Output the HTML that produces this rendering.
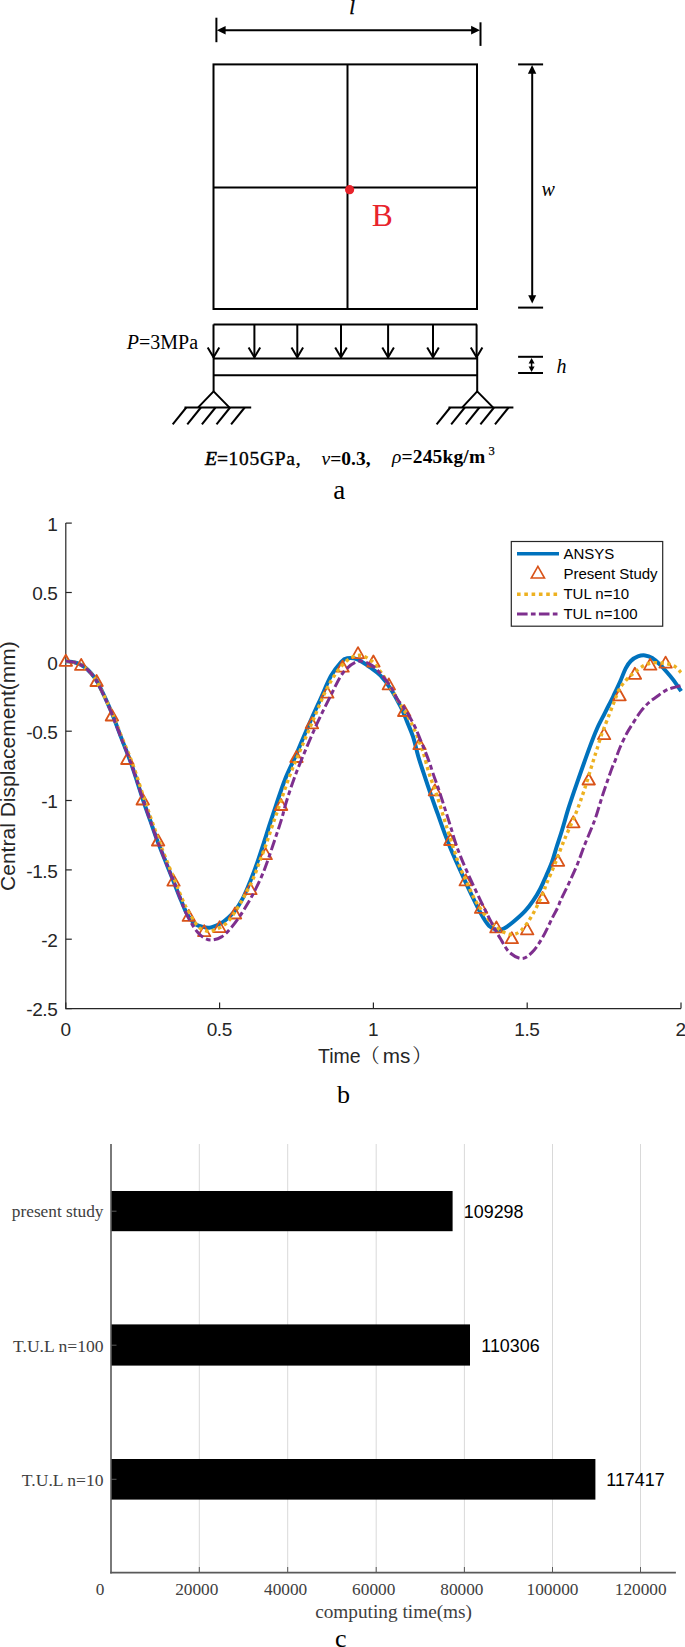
<!DOCTYPE html>
<html><head><meta charset="utf-8"><title>Figure</title>
<style>
html,body{margin:0;padding:0;background:#fff;}
body{width:685px;height:1647px;overflow:hidden;}
svg{display:block;}
</style></head>
<body>
<svg width="685" height="1647" viewBox="0 0 685 1647">
<rect width="685" height="1647" fill="#fff"/>

<g stroke="#000" stroke-width="2" fill="none" stroke-linecap="butt">
  <!-- l dimension -->
  <line x1="216.4" y1="17.7" x2="216.4" y2="42.2"/>
  <line x1="480.5" y1="22.3" x2="480.5" y2="45.9"/>
  <line x1="222" y1="30.2" x2="474" y2="30.2"/>
  <!-- plate -->
  <rect x="213.5" y="64.4" width="263.5" height="244.6"/>
  <line x1="347.5" y1="64.4" x2="347.5" y2="309"/>
  <line x1="213.5" y1="187.5" x2="477" y2="187.5" stroke-width="1.8"/>
  <!-- w dimension -->
  <line x1="518.1" y1="64.4" x2="543.1" y2="64.4"/>
  <line x1="518.1" y1="307.6" x2="543.1" y2="307.6"/>
  <line x1="532.2" y1="70" x2="532.2" y2="298"/>
  <!-- load -->
  <line x1="213.5" y1="324.4" x2="477" y2="324.4"/>
  <line x1="213.5" y1="324.4" x2="213.5" y2="357.5"/><polyline points="207.7,347.6 213.5,357.2 219.3,347.6" fill="none"/><line x1="254.4" y1="324.4" x2="254.4" y2="357.5"/><polyline points="248.6,347.6 254.4,357.2 260.2,347.6" fill="none"/><line x1="297.3" y1="324.4" x2="297.3" y2="357.5"/><polyline points="291.5,347.6 297.3,357.2 303.1,347.6" fill="none"/><line x1="341.0" y1="324.4" x2="341.0" y2="357.5"/><polyline points="335.2,347.6 341.0,357.2 346.8,347.6" fill="none"/><line x1="388.1" y1="324.4" x2="388.1" y2="357.5"/><polyline points="382.3,347.6 388.1,357.2 393.9,347.6" fill="none"/><line x1="433.0" y1="324.4" x2="433.0" y2="357.5"/><polyline points="427.2,347.6 433.0,357.2 438.8,347.6" fill="none"/><line x1="476.6" y1="324.4" x2="476.6" y2="357.5"/><polyline points="470.8,347.6 476.6,357.2 482.4,347.6" fill="none"/>
  <!-- beam -->
  <line x1="213.5" y1="358.4" x2="477" y2="358.4"/>
  <line x1="213.5" y1="375.2" x2="477" y2="375.2"/>
  <line x1="213.6" y1="357" x2="213.6" y2="391.4"/>
  <line x1="477.2" y1="357" x2="477.2" y2="391.4"/>
  <!-- supports -->
  <polyline points="198.2,407.4 213.6,391.4 229.3,407.4"/>
  <polyline points="462.3,407.4 477.2,391.4 493,407.4"/>
  <line x1="184.5" y1="407.5" x2="251.2" y2="407.5"/>
  <line x1="448.5" y1="407.5" x2="513.4" y2="407.5"/>
  <line x1="186.3" y1="407.5" x2="172.7" y2="424.3"/><line x1="200.9" y1="407.5" x2="187.3" y2="424.3"/><line x1="215.5" y1="407.5" x2="201.9" y2="424.3"/><line x1="230.1" y1="407.5" x2="216.5" y2="424.3"/><line x1="244.7" y1="407.5" x2="231.1" y2="424.3"/>
  <line x1="450.2" y1="407.5" x2="436.6" y2="424.3"/><line x1="464.8" y1="407.5" x2="451.2" y2="424.3"/><line x1="479.4" y1="407.5" x2="465.8" y2="424.3"/><line x1="494.0" y1="407.5" x2="480.4" y2="424.3"/><line x1="508.6" y1="407.5" x2="495.0" y2="424.3"/>
  <!-- h dimension -->
  <line x1="518.1" y1="356.8" x2="543" y2="356.8"/>
  <line x1="518.1" y1="373" x2="543" y2="373"/>
  <line x1="531.6" y1="362" x2="531.6" y2="368" stroke-width="1.5"/>
</g>
<g fill="#000" stroke="none">
  <polygon points="216.8,30.2 225.6,26 225.6,34.4"/>
  <polygon points="480,30.2 471.1,25.8 471.1,34.6"/>
  <polygon points="532.1,65 527.9,73.8 536.3,73.8"/>
  <polygon points="532.2,303.6 528.2,295.3 536.2,295.3"/>
  <polygon points="531.6,358 528.6,363.5 534.6,363.5"/>
  <polygon points="531.6,372 528.6,366.5 534.6,366.5"/>
</g>
<circle cx="349.6" cy="189.7" r="4.6" fill="#e8232b"/>
<g font-family="'Liberation Serif', serif" fill="#000">
  <text x="349.2" y="13.8" font-size="20.5" font-style="italic" stroke="#000" stroke-width="0.3">l</text>
  <text x="541.5" y="195.8" font-size="20" font-style="italic">w</text>
  <text x="371.8" y="226.2" font-size="31.5" fill="#e8232b">B</text>
  <text x="126.8" y="348.6" font-size="20"><tspan font-style="italic">P</tspan>=3MPa</text>
  <text x="556.5" y="372.8" font-size="20" font-style="italic">h</text>
  <text x="205" y="465" font-size="19.5"><tspan font-style="italic" stroke="#000" stroke-width="0.6">E</tspan><tspan stroke="#000" stroke-width="0.35" letter-spacing="0.7">=105GPa,</tspan></text>
  <text x="321.5" y="464.5" font-size="19.5"><tspan font-style="italic">ν</tspan><tspan font-weight="bold">=0.3,</tspan></text>
  <text x="392" y="463" font-size="19.5" letter-spacing="0.15"><tspan font-style="italic">ρ</tspan><tspan font-weight="bold">=245kg/m</tspan></text>
  <text x="488.6" y="454.5" font-size="12.5" stroke="#000" stroke-width="0.25">3</text>
  <text x="333.3" y="498.7" font-size="27">a</text>
</g>


<g stroke="#262626" stroke-width="1.2" fill="none">
  <polyline points="65.8,523.1 65.8,1008.6 681,1008.6"/>
  <line x1="65.8" y1="523.1" x2="71.8" y2="523.1"/><line x1="65.8" y1="592.5" x2="71.8" y2="592.5"/><line x1="65.8" y1="661.8" x2="71.8" y2="661.8"/><line x1="65.8" y1="731.2" x2="71.8" y2="731.2"/><line x1="65.8" y1="800.5" x2="71.8" y2="800.5"/><line x1="65.8" y1="869.9" x2="71.8" y2="869.9"/><line x1="65.8" y1="939.2" x2="71.8" y2="939.2"/><line x1="65.8" y1="1008.6" x2="71.8" y2="1008.6"/><line x1="65.8" y1="1008.6" x2="65.8" y2="1002.6"/><line x1="219.6" y1="1008.6" x2="219.6" y2="1002.6"/><line x1="373.4" y1="1008.6" x2="373.4" y2="1002.6"/><line x1="527.2" y1="1008.6" x2="527.2" y2="1002.6"/><line x1="681.0" y1="1008.6" x2="681.0" y2="1002.6"/>
</g>
<g fill="none" stroke-linejoin="round">
  <path d="M65.8,661.2 C67.3,661.4 72.4,661.9 75.0,662.5 C77.6,663.1 79.1,663.8 81.3,665.0 C83.5,666.2 85.8,667.9 88.0,670.0 C90.2,672.1 92.2,674.3 94.4,677.4 C96.6,680.5 98.1,683.1 100.9,688.8 C103.7,694.4 107.7,703.1 111.1,711.3 C114.5,719.5 117.9,729.0 121.3,737.9 C124.7,746.8 127.9,754.0 131.5,764.4 C135.1,774.8 140.0,790.7 143.1,800.0 C146.2,809.3 147.8,813.6 150.2,820.4 C152.6,827.2 154.8,834.1 157.4,840.9 C160.0,847.7 162.8,854.5 165.5,861.3 C168.2,868.1 171.1,875.2 173.7,881.7 C176.3,888.2 178.8,895.1 180.9,900.1 C183.0,905.1 184.3,908.7 186.0,912.0 C187.7,915.3 189.4,917.9 191.1,920.0 C192.8,922.1 194.3,923.4 196.0,924.5 C197.7,925.6 199.1,926.0 201.3,926.5 C203.5,927.0 206.3,928.1 209.3,927.7 C212.3,927.3 216.9,925.2 219.5,924.0 C222.1,922.8 222.4,922.9 225.0,920.6 C227.6,918.3 232.1,914.3 235.2,910.4 C238.3,906.5 240.8,902.0 243.4,897.1 C246.0,892.2 248.1,886.7 250.5,880.7 C252.9,874.7 255.5,867.6 257.7,861.3 C259.9,855.0 261.8,849.2 263.8,842.9 C265.9,836.6 267.9,829.8 270.0,823.5 C272.1,817.2 273.6,812.5 276.1,805.1 C278.6,797.8 281.7,787.8 285.0,779.4 C288.3,771.0 293.6,760.7 296.1,755.0 C298.6,749.3 297.8,750.6 300.2,745.0 C302.6,739.4 307.0,729.0 310.4,721.3 C313.8,713.5 317.3,706.0 320.7,698.5 C324.1,691.0 327.5,682.1 330.9,676.0 C334.3,669.9 338.4,665.0 341.1,662.0 C343.8,659.0 344.5,658.7 347.2,658.3 C349.9,657.9 353.6,657.9 357.4,659.4 C361.2,660.9 366.4,664.7 370.2,667.4 C374.0,670.1 377.0,671.9 380.4,675.5 C383.8,679.1 387.3,683.5 390.7,688.8 C394.1,694.1 398.2,701.8 400.9,707.2 C403.6,712.7 405.0,716.5 407.0,721.5 C409.0,726.5 411.2,731.1 413.1,736.9 C415.0,742.7 416.5,750.4 418.2,756.3 C419.9,762.2 421.3,766.0 423.4,772.3 C425.5,778.6 428.3,787.1 430.7,794.2 C433.1,801.3 435.6,807.9 438.0,814.7 C440.4,821.5 443.1,829.3 445.3,835.1 C447.5,840.9 448.6,843.8 451.1,849.7 C453.6,855.6 457.1,863.5 460.4,870.7 C463.7,877.9 467.3,886.0 470.7,893.1 C474.1,900.2 477.8,908.2 480.9,913.6 C483.9,919.0 486.3,923.1 489.0,925.8 C491.7,928.5 494.7,929.4 497.2,929.9 C499.7,930.4 501.3,929.9 504.0,928.5 C506.7,927.1 509.9,924.7 513.4,921.8 C516.9,918.9 521.7,914.7 525.0,911.2 C528.3,907.7 530.7,904.4 533.2,900.7 C535.7,897.0 538.1,893.1 540.2,889.0 C542.3,884.9 544.0,880.7 546.0,876.2 C548.0,871.7 550.1,867.1 551.9,862.2 C553.7,857.3 554.9,852.4 556.6,847.0 C558.3,841.6 560.1,836.5 562.1,830.0 C564.1,823.5 566.1,815.9 568.5,808.2 C570.9,800.6 573.0,794.4 576.6,784.1 C580.2,773.8 586.6,755.6 590.0,746.4 C593.4,737.2 594.5,734.4 597.0,728.7 C599.5,723.0 602.5,717.8 605.2,712.3 C607.9,706.8 610.9,701.3 613.4,696.0 C615.9,690.7 618.5,685.3 620.5,680.7 C622.5,676.1 624.0,671.7 625.7,668.4 C627.4,665.1 628.8,663.0 630.8,661.0 C632.8,659.0 635.5,657.3 637.9,656.4 C640.3,655.5 642.7,655.1 645.1,655.4 C647.5,655.7 649.8,656.5 652.2,658.0 C654.6,659.5 657.4,662.0 659.7,664.3 C662.1,666.5 664.1,669.0 666.3,671.5 C668.5,674.0 670.4,676.1 672.9,679.4 C675.4,682.7 679.8,689.2 681.2,691.2" stroke="#0072bd" stroke-width="4"/>
  <path d="M65.8,654.8 L72.0,665.8 L59.6,665.8 Z M81.2,658.9 L87.4,669.9 L75.0,669.9 Z M96.6,675.0 L102.8,686.0 L90.4,686.0 Z M111.9,709.5 L118.1,720.5 L105.7,720.5 Z M127.3,753.0 L133.5,764.0 L121.1,764.0 Z M142.7,793.5 L148.9,804.5 L136.5,804.5 Z M158.1,834.5 L164.3,845.5 L151.9,845.5 Z M173.5,874.6 L179.7,885.6 L167.3,885.6 Z M188.8,909.9 L195.0,920.9 L182.6,920.9 Z M204.2,925.1 L210.4,936.1 L198.0,936.1 Z M219.6,921.1 L225.8,932.1 L213.4,932.1 Z M235.0,907.5 L241.2,918.5 L228.8,918.5 Z M250.4,883.1 L256.6,894.1 L244.2,894.1 Z M265.7,848.1 L271.9,859.1 L259.5,859.1 Z M281.1,799.0 L287.3,810.0 L274.9,810.0 Z M296.5,751.0 L302.7,762.0 L290.3,762.0 Z M311.9,717.3 L318.1,728.3 L305.7,728.3 Z M327.3,686.6 L333.5,697.6 L321.1,697.6 Z M342.6,660.7 L348.8,671.7 L336.4,671.7 Z M358.0,647.1 L364.2,658.1 L351.8,658.1 Z M373.4,655.5 L379.6,666.5 L367.2,666.5 Z M388.8,678.4 L395.0,689.4 L382.6,689.4 Z M404.2,705.0 L410.4,716.0 L398.0,716.0 Z M419.5,738.1 L425.7,749.1 L413.3,749.1 Z M434.9,784.4 L441.1,795.4 L428.7,795.4 Z M450.3,834.0 L456.5,845.0 L444.1,845.0 Z M465.7,874.4 L471.9,885.4 L459.5,885.4 Z M481.1,901.9 L487.3,912.9 L474.9,912.9 Z M496.4,921.4 L502.6,932.4 L490.2,932.4 Z M511.8,932.2 L518.0,943.2 L505.6,943.2 Z M527.2,923.4 L533.4,934.4 L521.0,934.4 Z M542.6,892.0 L548.8,903.0 L536.4,903.0 Z M558.0,854.8 L564.2,865.8 L551.8,865.8 Z M573.3,816.3 L579.5,827.3 L567.1,827.3 Z M588.7,773.5 L594.9,784.5 L582.5,784.5 Z M604.1,728.1 L610.3,739.1 L597.9,739.1 Z M619.5,689.3 L625.7,700.3 L613.3,700.3 Z M634.9,667.8 L641.1,678.8 L628.7,678.8 Z M650.2,658.6 L656.4,669.6 L644.0,669.6 Z M665.6,656.6 L671.8,667.6 L659.4,667.6 Z" stroke="#d95319" stroke-width="1.8"/>
  <path d="M65.8,661.2 C67.3,661.4 72.4,661.9 75.0,662.5 C77.6,663.1 79.1,663.8 81.3,665.1 C83.5,666.4 85.8,668.1 88.0,670.2 C90.2,672.3 92.2,674.5 94.4,677.7 C96.6,680.9 98.0,683.6 100.9,689.3 C103.8,695.0 108.0,703.8 111.6,712.0 C115.2,720.2 118.7,729.7 122.3,738.5 C125.9,747.3 129.3,754.8 133.0,765.0 C136.7,775.2 141.5,790.8 144.6,800.0 C147.7,809.2 149.3,813.6 151.7,820.4 C154.1,827.2 156.3,834.1 158.9,840.9 C161.5,847.7 164.3,854.5 167.0,861.3 C169.7,868.1 172.6,875.3 175.2,881.7 C177.8,888.1 180.3,894.6 182.4,899.5 C184.5,904.4 186.2,907.6 188.0,911.0 C189.8,914.4 191.7,917.2 193.5,920.0 C195.3,922.8 196.7,925.6 199.0,927.5 C201.3,929.4 204.5,930.8 207.2,931.2 C209.9,931.6 212.1,931.1 215.4,929.7 C218.7,928.3 223.3,926.2 227.0,922.6 C230.7,919.0 234.2,913.1 237.3,908.3 C240.4,903.5 242.7,899.1 245.4,894.0 C248.1,888.9 251.2,883.2 253.6,877.7 C256.0,872.2 257.6,866.8 259.7,861.3 C261.8,855.8 263.8,850.8 265.9,845.0 C267.9,839.2 270.0,832.6 272.0,826.6 C274.0,820.6 275.2,817.6 278.1,809.2 C281.0,800.9 285.7,786.3 289.4,776.5 C293.1,766.7 296.3,759.5 300.2,750.4 C304.1,741.3 308.4,731.2 312.5,721.7 C316.6,712.2 320.9,700.9 324.7,693.1 C328.4,685.3 331.2,680.2 335.0,674.7 C338.8,669.2 343.1,663.6 347.2,660.4 C351.3,657.2 355.4,655.2 359.5,655.3 C363.6,655.4 368.2,658.3 371.7,661.0 C375.2,663.7 377.9,668.2 380.4,671.5 C382.9,674.8 384.4,677.1 386.6,680.7 C388.8,684.3 391.7,689.3 393.7,692.9 C395.7,696.5 396.8,698.7 398.8,702.1 C400.9,705.5 403.9,710.0 406.0,713.4 C408.1,716.8 409.4,719.2 411.1,722.6 C412.8,726.0 414.5,729.7 416.2,733.8 C417.9,737.9 419.9,743.4 421.3,747.1 C422.7,750.9 423.1,751.8 424.4,756.3 C425.7,760.8 427.2,767.5 429.2,773.8 C431.2,780.1 434.1,786.9 436.5,794.2 C438.9,801.5 441.4,809.8 443.8,817.6 C446.2,825.4 448.4,832.7 451.1,841.0 C453.8,849.3 457.7,861.2 459.9,867.2 C462.1,873.2 462.0,871.4 464.5,876.8 C467.0,882.1 470.9,892.5 474.7,899.3 C478.4,906.1 483.2,912.9 487.0,917.7 C490.8,922.5 494.1,925.4 497.2,927.9 C500.3,930.4 502.7,931.9 505.4,933.0 C508.1,934.1 510.9,934.9 513.6,934.4 C516.3,933.9 518.6,933.0 521.7,929.9 C524.8,926.8 528.6,921.4 532.0,915.6 C535.4,909.8 539.9,900.4 542.2,895.2 C544.6,890.1 544.6,888.5 546.1,884.7 C547.6,880.9 549.5,876.9 551.4,872.4 C553.3,867.9 555.6,862.3 557.5,857.5 C559.4,852.7 561.2,847.4 562.8,843.5 C564.4,839.6 564.6,839.2 566.9,833.9 C569.2,828.5 573.6,818.9 576.6,811.4 C579.6,803.9 581.9,797.0 584.6,788.9 C587.3,780.8 590.5,769.6 592.6,763.0 C594.7,756.4 595.5,753.7 597.0,749.0 C598.5,744.3 600.2,738.5 601.4,735.0 C602.6,731.5 602.9,731.1 604.2,727.7 C605.5,724.3 607.6,718.8 609.3,714.4 C611.0,710.0 612.7,705.4 614.4,701.1 C616.1,696.8 617.6,692.2 619.5,688.8 C621.4,685.4 623.8,682.9 625.7,680.7 C627.6,678.5 629.1,677.0 630.8,675.5 C632.5,674.0 634.2,672.9 635.9,671.5 C637.6,670.1 639.2,668.6 641.0,667.4 C642.8,666.2 644.5,665.1 646.6,664.3 C648.7,663.5 651.3,662.9 653.8,662.7 C656.3,662.5 659.3,662.8 661.7,663.0 C664.1,663.2 666.0,663.4 668.3,664.0 C670.6,664.6 673.4,665.5 675.5,666.9 C677.6,668.3 680.1,671.6 681.0,672.5" stroke="#edb120" stroke-width="3.4" stroke-dasharray="3.4 3.4"/>
  <path d="M65.8,661.2 C67.3,661.4 72.4,661.9 75.0,662.5 C77.6,663.1 79.1,663.8 81.3,665.1 C83.5,666.4 85.8,668.1 88.0,670.2 C90.2,672.3 92.2,674.5 94.4,677.7 C96.6,680.9 98.1,683.6 100.9,689.3 C103.7,695.0 107.7,703.6 111.1,711.8 C114.5,720.0 117.9,729.5 121.3,738.3 C124.7,747.1 127.9,754.5 131.5,764.8 C135.1,775.1 140.0,790.7 143.1,800.0 C146.2,809.3 147.8,813.6 150.2,820.4 C152.6,827.2 154.8,834.1 157.4,840.9 C160.0,847.7 162.8,854.5 165.5,861.3 C168.2,868.1 171.1,875.2 173.7,881.7 C176.3,888.2 178.8,894.9 180.9,900.1 C183.0,905.3 184.3,909.2 186.0,913.0 C187.7,916.8 189.2,919.5 191.1,922.6 C193.0,925.7 195.1,929.3 197.2,931.8 C199.2,934.3 201.1,936.1 203.4,937.5 C205.8,938.9 208.3,940.1 211.3,940.0 C214.3,939.9 218.2,938.9 221.5,936.9 C224.8,934.9 228.0,931.3 231.1,927.7 C234.2,924.1 237.4,919.8 240.3,915.5 C243.2,911.2 245.9,906.6 248.5,902.2 C251.1,897.8 253.3,893.7 255.7,888.9 C258.1,884.1 260.6,878.9 262.8,873.6 C265.0,868.3 266.8,863.0 268.9,857.2 C270.9,851.4 273.1,844.9 275.1,838.8 C277.2,832.7 279.3,826.5 281.2,820.4 C283.1,814.3 284.2,808.8 286.3,802.0 C288.4,795.2 291.1,786.9 293.8,779.4 C296.5,771.9 298.8,766.1 302.6,757.0 C306.4,747.9 311.9,734.8 316.6,724.5 C321.3,714.2 326.5,703.8 330.9,695.2 C335.3,686.6 338.7,678.3 343.1,672.7 C347.5,667.1 352.9,662.9 357.4,661.5 C361.9,660.1 366.4,662.3 370.2,664.3 C374.0,666.3 377.0,669.8 380.4,673.5 C383.8,677.2 387.8,682.4 390.7,686.8 C393.6,691.2 395.7,696.6 397.9,700.0 C400.1,703.4 401.9,704.5 403.8,707.3 C405.8,710.1 407.7,713.4 409.6,716.8 C411.5,720.2 413.6,723.8 415.4,727.7 C417.2,731.6 418.8,736.0 420.5,740.1 C422.2,744.2 424.1,748.6 425.7,752.6 C427.3,756.6 428.6,760.1 430.0,764.2 C431.4,768.3 433.0,773.5 434.4,777.4 C435.8,781.3 436.8,783.8 438.1,787.6 C439.4,791.5 440.4,794.5 442.3,800.5 C444.2,806.5 447.2,815.7 449.6,823.4 C452.0,831.1 454.1,838.9 456.9,846.8 C459.7,854.7 462.6,861.6 466.6,870.7 C470.6,879.8 476.5,892.1 480.9,901.3 C485.3,910.5 489.7,919.3 493.1,925.8 C496.5,932.3 498.6,935.7 501.3,940.1 C504.0,944.5 506.1,949.3 509.5,952.4 C512.9,955.5 518.0,958.5 521.7,958.5 C525.5,958.5 528.6,955.8 532.0,952.4 C535.4,949.0 538.8,943.9 542.2,938.1 C545.6,932.3 549.9,922.7 552.4,917.7 C554.9,912.7 556.0,911.1 557.5,908.0 C559.0,904.9 559.1,903.6 561.1,899.3 C563.1,895.0 566.6,888.3 569.3,882.4 C572.0,876.5 575.0,870.2 577.5,864.0 C580.0,857.8 582.3,850.9 584.6,845.0 C586.9,839.1 589.5,833.3 591.4,828.5 C593.3,823.7 594.4,821.3 596.1,816.1 C597.9,810.9 600.1,802.9 601.9,797.4 C603.6,791.9 604.9,788.5 606.6,783.4 C608.4,778.3 610.9,770.9 612.4,767.0 C613.9,763.1 614.2,763.2 615.4,760.0 C616.6,756.8 617.9,752.5 619.8,748.0 C621.7,743.5 624.5,737.6 626.8,733.3 C629.1,728.9 631.5,725.5 633.8,721.9 C636.1,718.2 638.4,714.5 640.8,711.4 C643.2,708.2 645.8,705.4 648.4,703.0 C651.0,700.6 653.5,699.0 656.3,697.0 C659.1,695.0 662.4,692.4 665.0,690.9 C667.6,689.4 669.4,688.9 672.0,688.0 C674.6,687.1 679.1,686.2 680.5,685.8" stroke="#7e2f8e" stroke-width="3" stroke-dasharray="10.6 3.3 4.7 3.3"/>
</g>
<g font-family="'Liberation Sans', Arial, sans-serif" fill="#262626" font-size="19" letter-spacing="-0.4">
  <text x="57.4" y="530.9" text-anchor="end">1</text><text x="57.4" y="600.3" text-anchor="end">0.5</text><text x="57.4" y="669.6" text-anchor="end">0</text><text x="57.4" y="739.0" text-anchor="end">-0.5</text><text x="57.4" y="808.3" text-anchor="end">-1</text><text x="57.4" y="877.7" text-anchor="end">-1.5</text><text x="57.4" y="947.0" text-anchor="end">-2</text><text x="57.4" y="1016.4" text-anchor="end">-2.5</text>
  <text x="65.5" y="1035.7" text-anchor="middle">0</text><text x="219.3" y="1035.7" text-anchor="middle">0.5</text><text x="373.1" y="1035.7" text-anchor="middle">1</text><text x="526.9" y="1035.7" text-anchor="middle">1.5</text><text x="680.7" y="1035.7" text-anchor="middle">2</text>
  <text x="318" y="1063" font-size="19.5" letter-spacing="0">Time</text>
  <text x="360.3" y="1063" font-size="19.5" font-family="'Liberation Serif', 'Noto Serif CJK SC', serif">（</text>
  <text x="382.8" y="1063" font-size="19.5" letter-spacing="0" textLength="27.6" lengthAdjust="spacingAndGlyphs">ms</text>
  <text x="412.3" y="1063" font-size="19.5" font-family="'Liberation Serif', 'Noto Serif CJK SC', serif">）</text>
  <text transform="translate(15.2,890.9) rotate(-90)" font-size="21" letter-spacing="0">Central Displacement(mm)</text>
</g>
<!-- legend -->
<rect x="511.3" y="541.5" width="151.4" height="84.7" fill="#fff" stroke="#262626" stroke-width="1.2"/>
<line x1="517" y1="553.7" x2="559" y2="553.7" stroke="#0072bd" stroke-width="3.6"/>
<path d="M537.9,566.4 L544.5,578.0 L531.3,578.0 Z" fill="none" stroke="#d95319" stroke-width="1.6"/>
<line x1="517" y1="594.2" x2="559" y2="594.2" stroke="#edb120" stroke-width="3.5" stroke-dasharray="3.6 3.7"/>
<line x1="517" y1="613.9" x2="559" y2="613.9" stroke="#7e2f8e" stroke-width="3" stroke-dasharray="10.6 3.3 4.7 3.3"/>
<g font-family="'Liberation Sans', Arial, sans-serif" fill="#000" font-size="15">
  <text x="563.4" y="559.1">ANSYS</text>
  <text x="563.4" y="579">Present Study</text>
  <text x="563.4" y="599.4">TUL n=10</text>
  <text x="563.4" y="619.4">TUL n=100</text>
</g>
<text x="337" y="1103" font-family="'Liberation Serif', serif" font-size="26" fill="#000">b</text>


<g stroke="#d9d9d9" stroke-width="1"><line x1="199.3" y1="1144" x2="199.3" y2="1572"/><line x1="287.7" y1="1144" x2="287.7" y2="1572"/><line x1="376.2" y1="1144" x2="376.2" y2="1572"/><line x1="464.4" y1="1144" x2="464.4" y2="1572"/><line x1="552.5" y1="1144" x2="552.5" y2="1572"/><line x1="640.5" y1="1144" x2="640.5" y2="1572"/></g>
<g fill="#000">
  <rect x="111" y="1191" width="341.6" height="40.2"/>
  <rect x="111" y="1324.4" width="359" height="41.2"/>
  <rect x="111" y="1459" width="484.4" height="40.6"/>
</g>
<g stroke="#595959" stroke-width="1.6" fill="none">
  <line x1="111" y1="1144" x2="111" y2="1573.4"/>
  <line x1="110.2" y1="1572.6" x2="675.9" y2="1572.6"/>
</g>
<g stroke="#595959" stroke-width="1">
  <line x1="111" y1="1211.2" x2="116.5" y2="1211.2"/>
  <line x1="111" y1="1345.2" x2="116.5" y2="1345.2"/>
  <line x1="111" y1="1479.3" x2="116.5" y2="1479.3"/>
  <line x1="199.3" y1="1572" x2="199.3" y2="1567"/><line x1="287.7" y1="1572" x2="287.7" y2="1567"/><line x1="376.2" y1="1572" x2="376.2" y2="1567"/><line x1="464.4" y1="1572" x2="464.4" y2="1567"/><line x1="552.5" y1="1572" x2="552.5" y2="1567"/><line x1="640.5" y1="1572" x2="640.5" y2="1567"/>
</g>
<g font-family="'Liberation Serif', serif" fill="#404040" font-size="17.3">
  <text x="103.5" y="1217.2" text-anchor="end">present study</text>
  <text x="103.6" y="1351.6" text-anchor="end" font-size="17.6">T.U.L n=100</text>
  <text x="103.6" y="1485.6" text-anchor="end" font-size="17.6">T.U.L n=10</text>
  <text x="100.0" y="1594.8" text-anchor="middle">0</text><text x="196.8" y="1594.8" text-anchor="middle">20000</text><text x="285.6" y="1594.8" text-anchor="middle">40000</text><text x="373.7" y="1594.8" text-anchor="middle">60000</text><text x="461.9" y="1594.8" text-anchor="middle">80000</text><text x="552.5" y="1594.8" text-anchor="middle">100000</text><text x="640.7" y="1594.8" text-anchor="middle">120000</text>
  <text x="393.6" y="1617.6" text-anchor="middle" font-size="19.3">computing time(ms)</text>
</g>
<g font-family="'Liberation Sans', Arial, sans-serif" fill="#000" font-size="17.9">
  <text x="463.8" y="1218">109298</text>
  <text x="481.3" y="1352">110306</text>
  <text x="606.3" y="1486">117417</text>
</g>
<text x="335" y="1646.5" font-family="'Liberation Serif', serif" font-size="26" fill="#000">c</text>

</svg>
</body></html>
